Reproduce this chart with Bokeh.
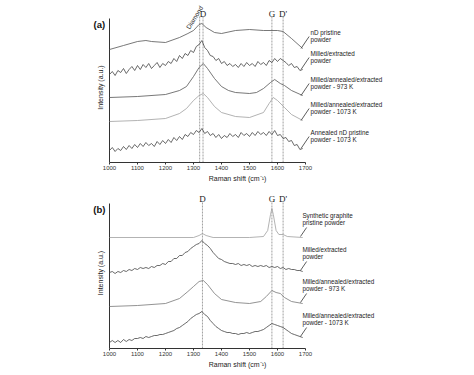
import math
from bokeh.plotting import figure
from bokeh.layouts import column
from bokeh.models import FixedTicker, ColumnDataSource
from bokeh.core.properties import value
from bokeh.embed import file_html
from bokeh.resources import INLINE

# ---------------- data ----------------
tick_values = [1000, 1100, 1200, 1300, 1400, 1500, 1600, 1700]
tick_labels = ["1000", "1100", "1200", "1300", "1400", "1500", "1600", "1700"]

diamond_pos = 1322
band_pos_a = [1334, 1580, 1620]
band_pos_b = [1332, 1580, 1620]
band_names = ["D", "G", "D'"]

noisy_x = list(range(1000, 1700, 10))

# panel (a) spectra (offset intensity, a.u.)
a1_x = [1000, 1050, 1100, 1130, 1150, 1200, 1250, 1280, 1300, 1320, 1330, 1345, 1375, 1400, 1450, 1500, 1550, 1600, 1620, 1650, 1690]
a1_y = [113, 117, 121, 122, 121, 120, 125, 129, 132, 138, 139, 135, 130, 129, 132, 133, 132, 132, 131, 124, 114]

a2_y = [88, 91, 87, 92, 90, 94, 89, 93, 96, 92,
        97, 93, 98, 95, 99, 94, 97, 100, 95, 99,
        97, 101, 99, 104, 101, 107, 104, 109, 107, 112,
        110, 116, 118, 122, 115, 112, 107, 106, 102, 104,
        99, 101, 97, 99, 96, 98, 95, 99, 96, 100,
        97, 99, 96, 101, 98, 100, 97, 102, 100, 104,
        101, 104, 102, 100, 97, 99, 95, 96, 92, 93]

a3_x = [1000, 1100, 1200, 1250, 1275, 1300, 1320, 1335, 1350, 1375, 1400, 1425, 1450, 1500, 1525, 1550, 1575, 1590, 1610, 1625, 1650, 1690]
a3_y = [65, 66, 68, 72, 76, 86, 95, 99, 94, 84, 76, 72, 70, 69, 70, 74, 80, 83, 79, 77, 72, 67]

a4_x = [1000, 1100, 1200, 1250, 1275, 1300, 1320, 1335, 1350, 1375, 1400, 1450, 1500, 1550, 1570, 1585, 1600, 1625, 1650, 1690]
a4_y = [41, 42, 44, 49, 54, 62, 67, 69, 65, 56, 50, 46, 45, 50, 59, 65, 62, 55, 48, 42]

a5_y = [12, 15, 11, 14, 12, 16, 13, 17, 14, 18,
        15, 19, 16, 20, 17, 19, 16, 21, 18, 22,
        19, 23, 20, 25, 22, 26, 23, 28, 26, 30,
        28, 32, 30, 34, 29, 31, 27, 29, 25, 28,
        24, 27, 25, 29, 26, 28, 25, 30, 27, 29,
        26, 30, 27, 31, 28, 30, 27, 31, 28, 32,
        27, 28, 24, 25, 21, 22, 17, 18, 13, 14]

labels_a = [["nD pristine", "powder"],
            ["Milled/extracted", "powder"],
            ["Milled/annealed/extracted", "powder - 973 K"],
            ["Milled/annealed/extracted", "powder - 1073 K"],
            ["Annealed nD pristine", "powder - 1073 K"]]

# panel (b) spectra
b1_x = [1000, 1300, 1320, 1332, 1345, 1370, 1500, 1550, 1565, 1575, 1580, 1585, 1595, 1605, 1620, 1635, 1690]
b1_y = [111, 111, 113, 115, 113, 111, 111, 112, 118, 134, 140, 134, 118, 114, 114, 112, 111]

b2_y = [76, 77, 75, 77, 76, 78, 77, 79, 78, 80,
        79, 81, 80, 81, 80, 82, 81, 83, 83, 85,
        84, 87, 87, 90, 90, 93, 93, 96, 97, 100,
        102, 104, 105, 108, 105, 103, 100, 96, 93, 90,
        89, 87, 86, 85, 85, 84, 85, 83, 84, 83,
        84, 82, 83, 82, 83, 82, 83, 81, 82, 81,
        82, 80, 81, 79, 80, 79, 79, 78, 78, 77]

b3_x = [1000, 1100, 1200, 1250, 1280, 1300, 1320, 1335, 1350, 1375, 1400, 1450, 1500, 1540, 1560, 1580, 1595, 1610, 1625, 1650, 1690]
b3_y = [42, 43, 45, 50, 57, 62, 67, 68, 64, 55, 49, 46, 45, 47, 52, 58, 56, 55, 51, 47, 45]

b4_y = [6, 8, 6, 8, 6, 9, 7, 9, 8, 10,
        10, 11, 10, 12, 11, 12, 13, 13, 14, 14,
        15, 16, 17, 18, 20, 21, 23, 25, 27, 30,
        32, 34, 35, 37, 34, 32, 28, 25, 22, 20,
        18, 17, 16, 16, 15, 15, 14, 15, 15, 16,
        15, 16, 17, 17, 18, 19, 21, 23, 25, 24,
        23, 22, 21, 19, 17, 15, 14, 13, 12, 11]

labels_b = [["Synthetic graphite", "pristine powder"],
            ["Milled/extracted", "powder"],
            ["Milled/annealed/extracted", "powder - 973 K"],
            ["Milled/annealed/extracted", "powder - 1073 K"]]

# ---------------- layout ----------------
SANS = "Liberation Sans"
SERIF = "Liberation Serif"
FW = 474
PX_PER_UNIT = 0.28
X0 = 1000 - 109 / PX_PER_UNIT
X1 = X0 + FW / PX_PER_UNIT


def make_panel(frame_h, axis_h, tag, curves, labels, band_pos, lead, txt, diamond):
    p = figure(frame_width=FW, frame_height=frame_h, x_range=(X0, X1), y_range=(0, frame_h),
               output_backend="svg", toolbar_location=None, y_axis_location=None,
               min_border_left=0, min_border_right=0, min_border_top=0, min_border_bottom=0)
    p.outline_line_color = None
    p.grid.visible = False
    p.background_fill_color = "white"
    p.border_fill_color = "white"

    ax = p.xaxis[0]
    ax.ticker = FixedTicker(ticks=tick_values)
    ax.major_label_overrides = dict(zip(tick_values, tick_labels))
    ax.bounds = (tick_values[0], tick_values[-1])
    ax.minor_tick_line_color = None
    ax.major_tick_out = 2
    ax.major_tick_in = 0
    ax.axis_line_color = "#333333"
    ax.major_tick_line_color = "#333333"
    ax.major_label_text_font = SANS
    ax.major_label_text_font_size = "6px"
    ax.major_label_text_color = "#333333"
    ax.major_label_standoff = 1
    ax.axis_label = "Raman shift (cm\u207b\u00b9)"
    ax.axis_label_text_font = SANS
    ax.axis_label_text_font_size = "7px"
    ax.axis_label_text_font_style = "normal"
    ax.axis_label_text_color = "#222222"
    ax.axis_label_standoff = 2

    # y axis line
    p.segment(x0=[tick_values[0]], y0=[0], x1=[tick_values[0]], y1=[axis_h],
              line_color="#333333", line_width=1)
    p.text(x=[tick_values[0] - 32], y=[axis_h * 0.5 + 3], text=["Intensity (a.u.)"],
           angle=math.pi / 2, text_font=value(SANS), text_font_size="7px",
           text_align="center", text_baseline="middle", text_color="#222222")
    p.text(x=[tick_values[0] - 36], y=[axis_h - 6], text=[tag],
           text_font=value(SANS), text_font_size="9.5px", text_font_style="bold",
           text_align="center", text_baseline="middle", text_color="#111111")

    # dashed band lines
    xs = list(band_pos) + ([diamond] if diamond else [])
    p.segment(x0=xs, y0=[0] * len(xs), x1=xs, y1=[axis_h + 2] * len(xs),
              line_color="#888888", line_width=0.8, line_dash="2 1")
    p.text(x=band_pos, y=[axis_h + 5] * len(band_pos), text=band_names,
           text_font=value(SERIF), text_font_size="9px", text_align="center",
           text_baseline="middle", text_color="#222222")
    if diamond:
        p.text(x=[diamond - 43], y=[axis_h - 10], text=["Diamond"], angle=math.radians(58),
               text_font=value(SANS), text_font_size="6.5px", text_align="left",
               text_baseline="alphabetic", text_color="#222222")

    # spectra
    for (cx, cy, col) in curves:
        p.line(cx, cy, line_color=col, line_width=0.8)

    # labels with leader lines
    lx0, lx1, ly0, ly1 = lead
    tx, t1, t2 = txt
    ends = [c[1][-1] for c in curves]
    p.segment(x0=[lx0] * len(ends), y0=[e + ly0 for e in ends],
              x1=[lx1] * len(ends), y1=[e + ly1 for e in ends],
              line_color="#333333", line_width=0.8)
    src = ColumnDataSource(dict(
        x=[tx] * (2 * len(ends)),
        y=[e + t1 for e in ends] + [e + t2 for e in ends],
        t=[l[0] for l in labels] + [l[1] for l in labels]))
    p.text(x="x", y="y", text="t", source=src, text_font=value(SANS),
           text_font_size="6.3px", text_align="left", text_baseline="middle",
           text_color="#222222")
    return p


curves_a = [(a1_x, a1_y, "#555555"), (noisy_x, a2_y, "#444444"), (a3_x, a3_y, "#555555"),
            (a4_x, a4_y, "#a0a0a0"), (noisy_x, a5_y, "#444444")]
curves_b = [(b1_x, b1_y, "#a0a0a0"), (noisy_x, b2_y, "#444444"), (b3_x, b3_y, "#777777"),
            (noisy_x, b4_y, "#444444")]

pa = make_panel(162, 144, "(a)", curves_a, labels_a, band_pos_a,
                (1684, 1713, 0, 12), (1718, 16, 9), diamond_pos)
pb = make_panel(164, 145, "(b)", curves_b, labels_b, band_pos_b,
                (1682, 1704, 1, 10), (1689, 22, 15), None)

layout = column(pa, pb, spacing=0)
open("out.html", "w").write(file_html(layout, INLINE))
